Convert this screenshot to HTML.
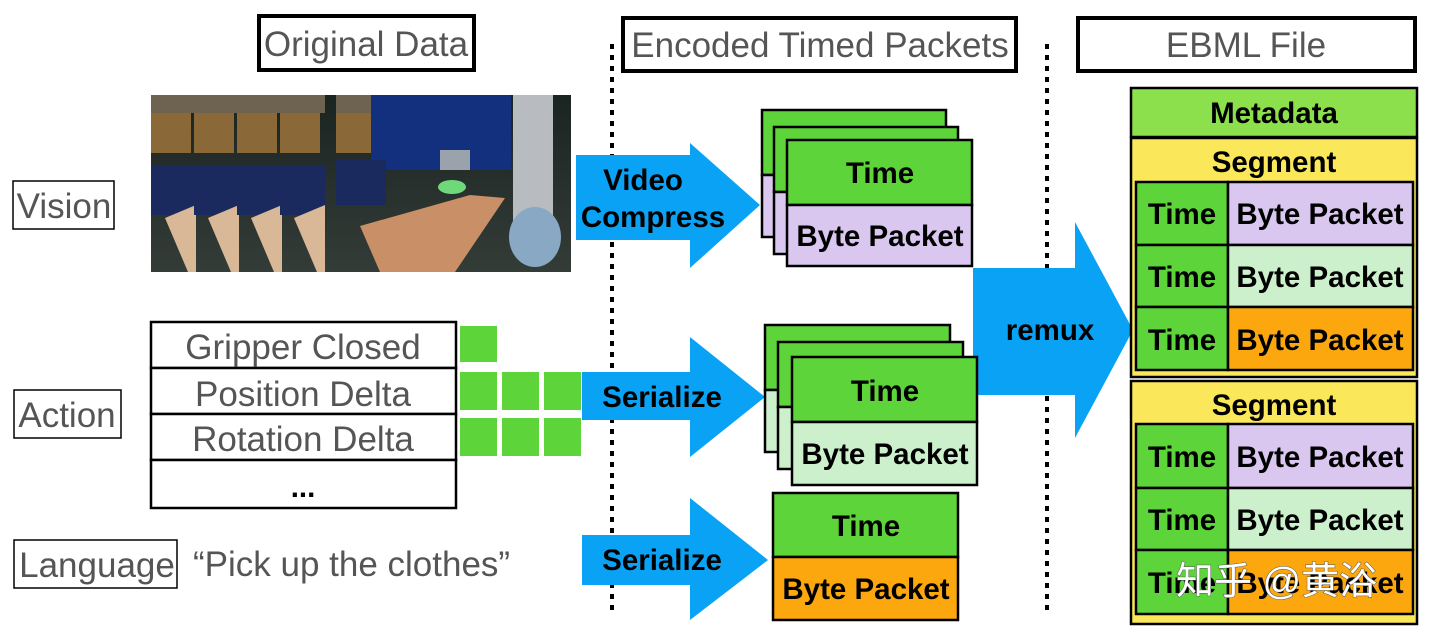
<!DOCTYPE html>
<html><head><meta charset="utf-8"><style>
html,body{margin:0;padding:0;background:#fff;width:1440px;height:640px;overflow:hidden}
svg{display:block}
.g{font-family:"Liberation Sans",sans-serif;fill:#555;font-size:35px}
.b{font-family:"Liberation Sans",sans-serif;fill:#000;font-size:29.5px;font-weight:bold}
</style></head><body>
<svg width="1440" height="640" viewBox="0 0 1440 640" xmlns="http://www.w3.org/2000/svg">
<defs>
<linearGradient id="floor" x1="0" y1="0" x2="0" y2="1"><stop offset="0" stop-color="#1a2420"/><stop offset="1" stop-color="#343c38"/></linearGradient>
</defs>
<rect x="259" y="16" width="215" height="54" fill="#fff" stroke="#000" stroke-width="4"/>
<text class="g" x="366" y="56" text-anchor="middle" font-size="33">Original Data</text>
<rect x="623" y="18" width="393" height="53" fill="#fff" stroke="#000" stroke-width="4"/>
<text class="g" x="820" y="57" text-anchor="middle" font-size="33">Encoded Timed Packets</text>
<rect x="1078" y="18" width="337" height="53" fill="#fff" stroke="#000" stroke-width="4"/>
<text class="g" x="1246" y="57" text-anchor="middle" font-size="33">EBML File</text>
<line x1="612" y1="44" x2="612" y2="612" stroke="#000" stroke-width="4" stroke-dasharray="5,6"/>
<line x1="1047" y1="44" x2="1047" y2="612" stroke="#000" stroke-width="4" stroke-dasharray="5,6"/>
<rect x="13" y="181" width="101" height="48" fill="#fff" stroke="#000" stroke-width="1.5"/>
<text class="g" x="64" y="218" text-anchor="middle" font-size="34">Vision</text>
<rect x="14" y="390" width="107" height="48" fill="#fff" stroke="#000" stroke-width="1.5"/>
<text class="g" x="67" y="427" text-anchor="middle" font-size="34">Action</text>
<rect x="14" y="540" width="163" height="48" fill="#fff" stroke="#000" stroke-width="1.5"/>
<text class="g" x="97" y="577" text-anchor="middle" font-size="34">Language</text>
<text class="g" x="193" y="576" font-size="35.5">“Pick up the clothes”</text>
<g>
<rect x="151" y="95" width="420" height="177" fill="url(#floor)"/>
<g id="fr">
<rect x="151" y="95" width="45" height="18" fill="#6e6250"/>
<rect x="151" y="113" width="40" height="40" fill="#8a6838"/>
<rect x="151" y="165" width="45" height="50" fill="#1a2a5e"/>
<polygon points="165,218 196,205 196,272 188,272" fill="#d9b898"/>
</g>
<use href="#fr" x="43"/><use href="#fr" x="86"/><use href="#fr" x="129"/>
<rect x="336" y="95" width="235" height="177" fill="url(#floor)"/>
<rect x="336" y="95" width="40" height="18" fill="#6e6250"/>
<rect x="336" y="113" width="35" height="40" fill="#8a6838"/>
<rect x="371" y="95" width="140" height="75" fill="#13307e"/>
<rect x="336" y="160" width="50" height="45" fill="#1a2a5e"/>
<polygon points="360,226 470,195 505,198 455,272 380,272" fill="#c99068"/>
<rect x="513" y="95" width="40" height="130" fill="#b8bcc0"/>
<ellipse cx="535" cy="237" rx="26" ry="30" fill="#88a8c4"/>
<rect x="440" y="150" width="30" height="20" fill="#9aa2ac"/>
<ellipse cx="452" cy="187" rx="14" ry="7" fill="#6fd87a"/>
</g>
<g fill="#fff" stroke="#000" stroke-width="2.5">
<rect x="151" y="322" width="305" height="46"/>
<rect x="151" y="368" width="305" height="46"/>
<rect x="151" y="414" width="305" height="46"/>
<rect x="151" y="460" width="305" height="48"/>
</g>
<text class="g" x="303" y="359" text-anchor="middle">Gripper Closed</text>
<text class="g" x="303" y="406" text-anchor="middle">Position Delta</text>
<text class="g" x="303" y="451" text-anchor="middle">Rotation Delta</text>
<text class="b" x="303" y="497" text-anchor="middle">...</text>
<g fill="#5dd53a">
<rect x="460" y="326" width="37" height="36"/>
<rect x="460" y="372" width="37" height="38"/><rect x="502" y="372" width="37" height="38"/><rect x="544" y="372" width="37" height="38"/>
<rect x="460" y="418" width="37" height="38"/><rect x="502" y="418" width="37" height="38"/><rect x="544" y="418" width="37" height="38"/>
</g>
<g fill="#0aa2f5">
<polygon points="576,155 690,155 690,143 760,205 690,268 690,240 576,240"/>
<polygon points="582,372 690,372 690,337 765,397 690,457 690,420 582,420"/>
<polygon points="582,535 690,535 690,498 768,560 690,620 690,585 582,585"/>
<polygon points="973,268 1075,268 1075,222 1133,330 1075,438 1075,395 973,395"/>
</g>
<text class="b" x="643" y="190" text-anchor="middle">Video</text>
<text class="b" x="653" y="227" text-anchor="middle">Compress</text>
<text class="b" x="662" y="407" text-anchor="middle">Serialize</text>
<text class="b" x="662" y="570" text-anchor="middle">Serialize</text>
<text class="b" x="1050" y="340" text-anchor="middle">remux</text>
<g stroke="#000" stroke-width="2.5">
<rect x="762" y="110" width="184" height="65" fill="#5dd53a"/><rect x="762" y="175" width="184" height="62" fill="#d9c7f0"/>
<rect x="774" y="127" width="184" height="65" fill="#5dd53a"/><rect x="774" y="192" width="184" height="62" fill="#d9c7f0"/>
<rect x="787" y="140" width="185" height="65" fill="#5dd53a"/><rect x="787" y="205" width="185" height="61" fill="#d9c7f0"/>
</g>
<text class="b" x="880" y="183" text-anchor="middle">Time</text>
<text class="b" x="880" y="246" text-anchor="middle">Byte Packet</text>
<g stroke="#000" stroke-width="2.5">
<rect x="765" y="325" width="185" height="65" fill="#5dd53a"/><rect x="765" y="390" width="185" height="62" fill="#cdf0cc"/>
<rect x="778" y="342" width="185" height="65" fill="#5dd53a"/><rect x="778" y="407" width="185" height="62" fill="#cdf0cc"/>
<rect x="792" y="357" width="185" height="65" fill="#5dd53a"/><rect x="792" y="422" width="185" height="63" fill="#cdf0cc"/>
</g>
<text class="b" x="885" y="401" text-anchor="middle">Time</text>
<text class="b" x="885" y="464" text-anchor="middle">Byte Packet</text>
<g stroke="#000" stroke-width="2.5">
<rect x="773" y="493" width="185" height="64" fill="#5dd53a"/><rect x="773" y="557" width="185" height="63" fill="#fca70e"/>
</g>
<text class="b" x="866" y="536" text-anchor="middle">Time</text>
<text class="b" x="866" y="599" text-anchor="middle">Byte Packet</text>
<g stroke="#000" stroke-width="2.5">
<rect x="1131" y="88" width="286" height="49" fill="#8ce04c"/>
<rect x="1131" y="138" width="286" height="239" fill="#fbe85a"/>
<rect x="1131" y="381" width="286" height="243" fill="#fbe85a"/>
<rect x="1136" y="182" width="92" height="63" fill="#5dd53a"/><rect x="1228" y="182" width="185" height="63" fill="#d9c7f0"/>
<rect x="1136" y="245" width="92" height="62" fill="#5dd53a"/><rect x="1228" y="245" width="185" height="62" fill="#cdf0cc"/>
<rect x="1136" y="307" width="92" height="63" fill="#5dd53a"/><rect x="1228" y="307" width="185" height="63" fill="#fca70e"/>
<rect x="1136" y="424" width="92" height="64" fill="#5dd53a"/><rect x="1228" y="424" width="185" height="64" fill="#d9c7f0"/>
<rect x="1136" y="488" width="92" height="62" fill="#5dd53a"/><rect x="1228" y="488" width="185" height="62" fill="#cdf0cc"/>
<rect x="1136" y="550" width="92" height="64" fill="#5dd53a"/><rect x="1228" y="550" width="185" height="64" fill="#fca70e"/>
</g>
<text class="b" x="1274" y="123" text-anchor="middle">Metadata</text>
<text class="b" x="1274" y="172" text-anchor="middle">Segment</text>
<text class="b" x="1274" y="415" text-anchor="middle">Segment</text>
<g class="b" text-anchor="middle">
<text x="1182" y="224">Time</text><text x="1320" y="224">Byte Packet</text>
<text x="1182" y="287">Time</text><text x="1320" y="287">Byte Packet</text>
<text x="1182" y="350">Time</text><text x="1320" y="350">Byte Packet</text>
<text x="1182" y="467">Time</text><text x="1320" y="467">Byte Packet</text>
<text x="1182" y="530">Time</text><text x="1320" y="530">Byte Packet</text>
<text x="1182" y="593">Time</text><text x="1320" y="593">Byte Packet</text>
</g>
<text x="1176" y="594" font-family="'Liberation Sans','Noto Sans CJK SC',sans-serif" font-size="38" fill="#fff" stroke="#555" stroke-width="1" style="paint-order:stroke">知乎 @黄浴</text>
</svg>
</body></html>
